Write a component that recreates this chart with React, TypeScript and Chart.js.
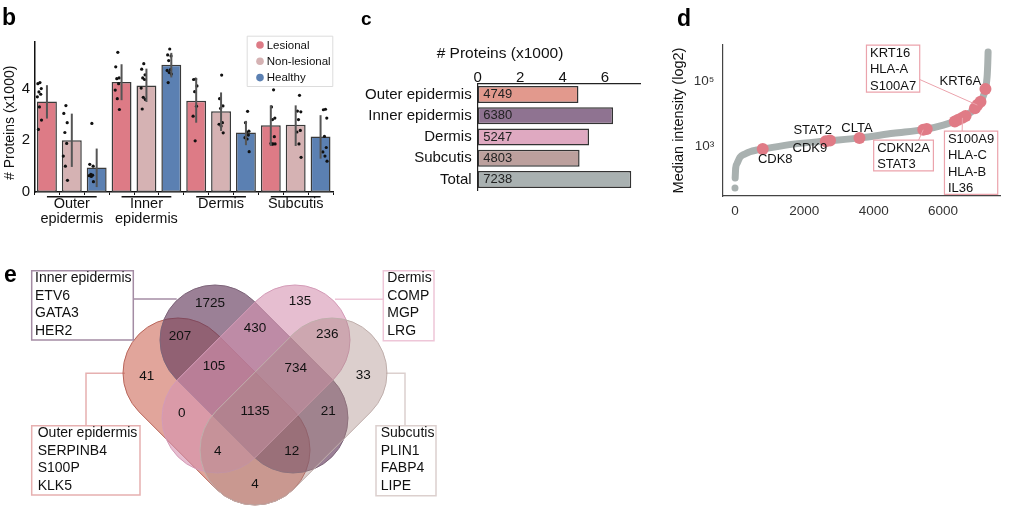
import React, { useEffect, useRef } from "react";
import { Chart, registerables } from "chart.js";

Chart.register(...registerables);

const FF = "'Liberation Sans', Arial, Helvetica, sans-serif";
const INK = "#111111";
Chart.defaults.font.family = FF;

/* ================= panel b : data ================= */
const REGIONS = ["Outer epidermis", "Inner epidermis", "Dermis", "Subcutis"];
const REGION_TICKS = [["Outer", "epidermis"], ["Inner", "epidermis"], ["Dermis"], ["Subcutis"]];
const CONDITIONS = ["Lesional", "Non-lesional", "Healthy"];
const B_Y_TICKS = [0, 2, 4];

const MEAN_LESIONAL = [3.5, 4.25, 3.53, 2.58];
const MEAN_NONLESIONAL = [2.0, 4.12, 3.12, 2.6];
const MEAN_HEALTHY = [0.95, 4.92, 2.3, 2.15];

const ERR_LOW_LESIONAL = [2.84, 3.55, 2.68, 1.78];
const ERR_HIGH_LESIONAL = [4.13, 4.94, 4.41, 3.35];
const ERR_LOW_NONLESIONAL = [0.97, 3.48, 2.36, 1.78];
const ERR_HIGH_NONLESIONAL = [3.03, 4.77, 3.85, 3.35];
const ERR_LOW_HEALTHY = [0.19, 4.43, 1.81, 1.29];
const ERR_HIGH_HEALTHY = [1.68, 5.38, 2.75, 2.97];

const DOTS_LESIONAL = [
  [4.23, 4.19, 4.0, 3.87, 3.78, 3.68, 3.29, 2.78, 2.42],
  [5.4, 4.84, 4.41, 4.38, 4.19, 3.94, 3.61, 3.19],
  [4.37, 4.35, 4.1, 3.88, 3.32, 2.93, 1.98],
  [3.95, 3.29, 2.86, 2.8, 2.14, 1.88, 1.86, 1.86, 1.85],
];
const DOTS_NONLESIONAL = [
  [3.34, 3.04, 2.68, 2.3, 1.88, 1.39, 1.0, 0.45],
  [4.96, 4.75, 4.53, 4.41, 4.35, 4.02, 3.66, 3.58, 3.21],
  [4.52, 3.61, 3.33, 3.23, 2.68, 2.62, 2.55, 2.29],
  [3.74, 3.13, 3.1, 2.8, 2.38, 2.32, 1.86, 1.34],
];
const DOTS_HEALTHY = [
  [2.65, 1.07, 1.0, 0.68, 0.65, 0.63, 0.6, 0.4],
  [5.53, 5.3, 5.26, 5.08, 4.73, 4.7, 4.62, 4.56, 4.23],
  [3.12, 2.68, 2.35, 2.32, 2.2, 2.1, 2.05, 1.56],
  [3.2, 3.18, 2.86, 2.15, 1.72, 1.55, 1.39, 1.19],
];

/* ================= panel c : data ================= */
const LAYERS = ["Outer epidermis", "Inner epidermis", "Dermis", "Subcutis", "Total"];
const LAYER_PROTEINS = [4749, 6380, 5247, 4803, 7238];
const C_X_TICKS = [0, 2, 4, 6];

/* ================= panel d : data ================= */
const CURVE_RANK = [5, 20, 60, 144, 288, 433, 625, 800, 1683, 2690, 3587, 4567, 5480, 6009, 6375, 6605, 6826, 6970, 7086, 7163, 7223, 7271, 7290, 7300];
const CURVE_INTENSITY = [112, 224, 309, 479, 603, 708, 794, 851, 1202, 1514, 1862, 2570, 3388, 4571, 6166, 8318, 11749, 15849, 22387, 35481, 57544, 134896, 346737, 776247];
const LOWEST_RANK = [0];
const LOWEST_INTENSITY = [55];
const HIGHLIGHT_GENES = ["CDK8", "CDK9", "STAT2", "CLTA", "CDKN2A", "STAT3", "S100A9", "HLA-C", "HLA-B", "IL36", "KRT16", "HLA-A", "S100A7", "KRT6A"];
const HIGHLIGHT_RANK = [800, 2620, 2740, 3590, 5430, 5530, 6340, 6440, 6560, 6650, 6920, 6990, 7080, 7223];
const HIGHLIGHT_INTENSITY = [851, 1470, 1560, 1860, 3300, 3450, 5900, 6600, 7600, 8600, 14800, 18600, 23400, 57500];
const D_X_TICKS = [0, 2000, 4000, 6000];
const D_Y_TICKS = [1000, 100000];

/* ================= panel e : data ================= */
const VENN_SETS = ["Outer epidermis", "Inner epidermis", "Dermis", "Subcutis"];
const VENN_REGIONS = ["O", "I", "D", "S", "OI", "ID", "DS", "OD", "IS", "OS", "OID", "IDS", "ODS", "OIS", "OIDS"];
const VENN_COUNTS = [41, 1725, 135, 33, 207, 430, 236, 0, 21, 4, 105, 734, 4, 12, 1135];
const MARKERS_OUTER = ["SERPINB4", "S100P", "KLK5"];
const MARKERS_INNER = ["ETV6", "GATA3", "HER2"];
const MARKERS_DERMIS = ["COMP", "MGP", "LRG"];
const MARKERS_SUBCUTIS = ["PLIN1", "FABP4", "LIPE"];

/* ================= styles / layout ================= */
const CONDITION_COLORS = ["#dd7b86", "#d5b2b3", "#5b80b2"];
const LAYER_COLORS = ["#e2998d", "#8f7391", "#dfa9c1", "#bca09d", "#a9b1b1"];
const DOT_JITTER = [0.02, -0.06, 0.07, -0.02, 0.05, -0.08, 0.0, 0.08, -0.04];

const D_TEXT_LABELS = [
  { gene: "CDK8", dx: 12.5, dy: 10.5 },
  { gene: "STAT2", dx: -17.3, dy: -10.4 },
  { gene: "CDK9", dx: -16, dy: 7.5 },
  { gene: "CLTA", dx: -2.5, dy: -9.6 },
  { gene: "KRT6A", dx: -25, dy: -8 },
];
const D_BOXES = [
  { genes: ["KRT16", "HLA-A", "S100A7"], anchor: "HLA-A", bx: -110.9, by: -60, lx: -58.6, ly: -26 },
  { genes: ["CDKN2A", "STAT3"], anchor: "CDKN2A", bx: -49.6, by: 10.3, lx: -4.6, ly: 10.3 },
  { genes: ["S100A9", "HLA-C", "HLA-B", "IL36"], anchor: "HLA-B", bx: -18, by: 13.2, lx: -0.3, ly: 13.2 },
];

// venn geometry in venn units (1 unit = 1 px), centre of figure at 0,0
const VENN_SHAPES = [
  { c1: [-77, -27], c2: [0, 50], fill: "rgba(205,105,88,0.6)", stroke: "#b8655a" },
  { c1: [-40, -60], c2: [38, 18], fill: "rgba(101,60,94,0.65)", stroke: "#7d6479" },
  { c1: [40, -60], c2: [-38, 18], fill: "rgba(213,147,177,0.6)", stroke: "#d39bb7" },
  { c1: [77, -27], c2: [0, 50], fill: "rgba(167,135,130,0.4)", stroke: "#bfaeab" },
];
const VENN_RADIUS = 55;
const VENN_LABEL_POS: Record<string, number[]> = {
  O: [-108.3, -23.3], I: [-45, -96.7], D: [45, -99], S: [108.3, -24.3],
  OI: [-75, -64], ID: [0, -71.7], DS: [72.3, -65.7], OD: [-73.3, 13.3], IS: [73.3, 11], OS: [0, 84.3],
  OID: [-41, -33.3], IDS: [40.7, -31.7], ODS: [-37.3, 51], OIS: [36.7, 51], OIDS: [0, 11.7],
};
const VENN_BOXES = [
  { set: 1, markers: MARKERS_INNER, x: -223.3, y: -129.3, w: 101.6, h: 69.3, pad: 3.3, color: "#a48ca4", line: [[-121.7, -101], [-78.3, -101]] },
  { set: 0, markers: MARKERS_OUTER, x: -223.3, y: 25.7, w: 108.3, h: 69.3, pad: 6, color: "#e6b0b0", line: [[-169, 25.7], [-169, -26.7], [-130, -26.7]] },
  { set: 2, markers: MARKERS_DERMIS, x: 128.3, y: -129.3, w: 50.7, h: 70, pad: 4, color: "#eec6d8", line: [[128.3, -100.7], [80, -100.7]] },
  { set: 3, markers: MARKERS_SUBCUTIS, x: 121, y: 25.7, w: 60, h: 70, pad: 4.7, color: "#dcd0ce", line: [[150, 25.7], [150, -26.7], [131, -26.7]] },
];

/* ================= helpers ================= */
const fixTicks = (values: number[]) => (s: any) => {
  s.ticks = values.map((v) => ({ value: v }));
};

function ChartCanvas({ left, top, width, height, make }: any) {
  const ref = useRef<HTMLCanvasElement | null>(null);
  useEffect(() => {
    const chart = new Chart(ref.current as HTMLCanvasElement, make());
    return () => chart.destroy();
  }, []);
  return (
    <canvas
      ref={ref}
      width={width}
      height={height}
      style={{ position: "absolute", left, top, width, height }}
    />
  );
}

/* ================= panel b ================= */
function makeB(): any {
  const means = [MEAN_LESIONAL, MEAN_NONLESIONAL, MEAN_HEALTHY];
  const lows = [ERR_LOW_LESIONAL, ERR_LOW_NONLESIONAL, ERR_LOW_HEALTHY];
  const highs = [ERR_HIGH_LESIONAL, ERR_HIGH_NONLESIONAL, ERR_HIGH_HEALTHY];
  const dots = [DOTS_LESIONAL, DOTS_NONLESIONAL, DOTS_HEALTHY];

  const barSets = CONDITIONS.map((name, c) => ({
    type: "bar",
    label: name,
    data: means[c].map((v, g) => ({ x: g * 3 + c, y: v })),
    backgroundColor: CONDITION_COLORS[c],
    borderColor: "#3a3a3a",
    borderWidth: 1.5,
    borderSkipped: false,
    grouped: false,
    barPercentage: 0.8,
    categoryPercentage: 1,
    xAxisID: "x",
    order: 2,
  }));
  const dotData: any[] = [];
  CONDITIONS.forEach((_, c) => {
    dots[c].forEach((vals, g) => {
      vals.forEach((v, k) => dotData.push({ x: g * 3 + c + DOT_JITTER[k % DOT_JITTER.length], y: v }));
    });
  });
  const dotSet = {
    type: "scatter",
    data: dotData,
    xAxisID: "xd",
    pointRadius: 1.6,
    pointBackgroundColor: INK,
    pointBorderWidth: 0,
    order: 1,
  };

  const plugin = {
    id: "bExtras",
    afterDatasetsDraw(chart: any) {
      const { ctx, chartArea } = chart;
      const ys = chart.scales.y;
      const xs = chart.scales.x;
      ctx.save();
      ctx.strokeStyle = "#555";
      ctx.lineWidth = 2;
      CONDITIONS.forEach((_, c) => {
        const meta = chart.getDatasetMeta(c);
        meta.data.forEach((el: any, g: number) => {
          ctx.beginPath();
          ctx.moveTo(el.x, ys.getPixelForValue(lows[c][g]));
          ctx.lineTo(el.x, ys.getPixelForValue(highs[c][g]));
          ctx.stroke();
        });
      });
      ctx.strokeStyle = INK;
      ctx.lineWidth = 1.5;
      const yb = chartArea.bottom + 4.7;
      REGIONS.forEach((_, g) => {
        ctx.beginPath();
        ctx.moveTo(xs.getPixelForValue(g * 3), yb);
        ctx.lineTo(xs.getPixelForValue(g * 3 + 2), yb);
        ctx.stroke();
      });
      // legend
      const bx = chartArea.right - 86.3;
      const by = chartArea.top - 6.3;
      ctx.fillStyle = "#fff";
      ctx.strokeStyle = "#dcdcdc";
      ctx.lineWidth = 1;
      ctx.beginPath();
      ctx.rect(bx + 0.5, by + 0.5, 85.6, 50.3);
      ctx.fill();
      ctx.stroke();
      ctx.font = `11.5px ${FF}`;
      ctx.textBaseline = "middle";
      ctx.textAlign = "left";
      CONDITIONS.forEach((name, c) => {
        const yy = by + 9.3 + c * 16.3;
        ctx.fillStyle = CONDITION_COLORS[c];
        ctx.beginPath();
        ctx.arc(bx + 13.3, yy, 3.8, 0, Math.PI * 2);
        ctx.fill();
        ctx.fillStyle = INK;
        ctx.fillText(name, bx + 20, yy + 0.5);
      });
      ctx.restore();
    },
  };

  return {
    data: { datasets: [...barSets, dotSet] },
    options: {
      animation: false,
      responsive: false,
      events: [],
      layout: { padding: { top: 42, right: 7, left: 0, bottom: 0 } },
      plugins: { legend: { display: false }, tooltip: { enabled: false } },
      scales: {
        x: {
          type: "linear",
          offset: false,
          min: -0.5,
          max: 11.5,
          afterBuildTicks: fixTicks([0, 1, 2, 3, 4, 5, 6, 7, 8, 9, 10, 11]),
          afterFit: (s: any) => { s.height = 48; },
          grid: { display: true, drawOnChartArea: false, drawTicks: true, tickLength: 3, color: INK, lineWidth: 1 },
          border: { display: true, color: INK, width: 1.5 },
          ticks: {
            autoSkip: false,
            maxRotation: 0,
            padding: 2,
            color: INK,
            font: { family: FF, size: 14.5, lineHeight: 1.0 },
            callback: (_v: any, i: number) => (i % 3 === 1 ? REGION_TICKS[(i - 1) / 3] : ""),
          },
        },
        xd: { type: "linear", display: false, offset: false, min: -0.19, max: 11.31 },
        y: {
          min: 0,
          max: 5.8,
          afterBuildTicks: fixTicks(B_Y_TICKS),
          afterFit: (s: any) => { s.width = 34.5; },
          grid: { display: false, drawTicks: false },
          border: { display: true, color: INK, width: 1.5 },
          ticks: { color: INK, padding: 4.5, font: { family: FF, size: 15 } },
          title: {
            display: true,
            text: "# Proteins (x1000)   ",
            color: INK,
            font: { family: FF, size: 14 },
            padding: { top: 1.5, bottom: 0 },
          },
        },
      },
    },
    plugins: [plugin],
  };
}

/* ================= panel c ================= */
function makeC(): any {
  const plugin = {
    id: "cValues",
    afterDatasetsDraw(chart: any) {
      const { ctx } = chart;
      const x0 = chart.scales.x.getPixelForValue(0);
      const meta = chart.getDatasetMeta(0);
      ctx.save();
      ctx.font = `13px ${FF}`;
      ctx.fillStyle = "#222";
      ctx.textBaseline = "middle";
      ctx.textAlign = "left";
      meta.data.forEach((el: any, i: number) => {
        ctx.fillText(String(LAYER_PROTEINS[i]), x0 + 5.6, el.y);
      });
      ctx.restore();
    },
  };
  return {
    type: "bar",
    data: {
      labels: LAYERS,
      datasets: [
        {
          data: LAYER_PROTEINS.map((v) => v / 1000),
          backgroundColor: LAYER_COLORS,
          borderColor: "#333",
          borderWidth: 1.5,
          borderSkipped: false,
          barPercentage: 0.8,
          categoryPercentage: 1,
        },
      ],
    },
    options: {
      indexAxis: "y",
      animation: false,
      responsive: false,
      events: [],
      layout: { padding: { top: 0, right: 96, left: 0, bottom: 9.8 } },
      plugins: {
        legend: { display: false },
        tooltip: { enabled: false },
        title: {
          display: true,
          text: "# Proteins (x1000)",
          color: INK,
          font: { family: FF, size: 15.5, weight: "normal", lineHeight: 1.2 },
          padding: { top: 44, bottom: 0 },
        },
      },
      scales: {
        x: {
          position: "top",
          min: 0,
          max: 7.65,
          afterBuildTicks: fixTicks(C_X_TICKS),
          afterFit: (s: any) => { s.height = 21.4; },
          grid: { display: false, drawTicks: false },
          border: { display: true, color: "#222", width: 1.2 },
          ticks: { color: INK, padding: -1, font: { family: FF, size: 15, lineHeight: 1 } },
        },
        y: {
          afterFit: (s: any) => { s.width = 117.7; },
          grid: { display: false, drawTicks: false },
          border: { display: true, color: "#222", width: 1.2 },
          ticks: { color: INK, padding: 6, font: { family: FF, size: 15 } },
        },
      },
    },
    plugins: [plugin],
  };
}

/* ================= panel d ================= */
function makeD(): any {
  const plugin = {
    id: "dLabels",
    afterDatasetsDraw(chart: any) {
      const { ctx } = chart;
      const meta = chart.getDatasetMeta(2);
      const pos = (gene: string) => {
        const el = meta.data[HIGHLIGHT_GENES.indexOf(gene)];
        return { x: el.x, y: el.y };
      };
      ctx.save();
      ctx.font = `13px ${FF}`;
      ctx.fillStyle = INK;
      ctx.textBaseline = "middle";
      ctx.textAlign = "center";
      D_TEXT_LABELS.forEach((l) => {
        const p = pos(l.gene);
        ctx.fillText(l.gene, p.x + l.dx, p.y + l.dy);
      });
      D_BOXES.forEach((b) => {
        const p = pos(b.anchor);
        ctx.strokeStyle = "#eba3ac";
        ctx.lineWidth = 1;
        ctx.beginPath();
        ctx.moveTo(p.x + b.lx, p.y + b.ly);
        ctx.lineTo(p.x, p.y);
        ctx.stroke();
        const w = Math.max(...b.genes.map((g) => ctx.measureText(g).width)) + 7;
        const h = b.genes.length * 16.3 - 1.8;
        const x = p.x + b.bx;
        const y = p.y + b.by;
        ctx.fillStyle = "#fff";
        ctx.lineWidth = 1.2;
        ctx.beginPath();
        ctx.rect(x, y, w, h);
        ctx.fill();
        ctx.stroke();
        ctx.fillStyle = INK;
        ctx.textAlign = "left";
        b.genes.forEach((g, i) => ctx.fillText(g, x + 3.5, y + 8.3 + i * 16.3));
        ctx.textAlign = "center";
      });
      ctx.restore();
    },
  };
  return {
    type: "line",
    data: {
      datasets: [
        {
          type: "line",
          data: CURVE_RANK.map((r, i) => ({ x: r, y: CURVE_INTENSITY[i] })),
          borderColor: "#a9b1b0",
          borderWidth: 7,
          pointRadius: 0,
          cubicInterpolationMode: "monotone",
          borderCapStyle: "round",
          borderJoinStyle: "round",
          fill: false,
          order: 3,
        },
        {
          type: "scatter",
          data: LOWEST_RANK.map((r, i) => ({ x: r, y: LOWEST_INTENSITY[i] })),
          pointRadius: 3.5,
          pointBackgroundColor: "#a9b1b0",
          pointBorderWidth: 0,
          order: 2,
        },
        {
          type: "scatter",
          data: HIGHLIGHT_RANK.map((r, i) => ({ x: r, y: HIGHLIGHT_INTENSITY[i] })),
          pointRadius: 6,
          pointBackgroundColor: "#e07b86",
          pointBorderWidth: 0,
          order: 1,
        },
      ],
    },
    options: {
      animation: false,
      responsive: false,
      events: [],
      layout: { padding: { top: 45, right: 15, left: 0, bottom: 0 } },
      plugins: { legend: { display: false }, tooltip: { enabled: false } },
      scales: {
        x: {
          type: "linear",
          min: -366,
          max: 7643,
          afterBuildTicks: fixTicks(D_X_TICKS),
          afterFit: (s: any) => { s.height = 34; },
          grid: { display: false, drawTicks: false },
          border: { display: true, color: "#444", width: 1.2 },
          ticks: {
            color: "#333",
            padding: 7,
            font: { family: FF, size: 13.5 },
            callback: (v: any) => String(v),
          },
        },
        y: {
          type: "logarithmic",
          min: 31.6,
          max: 1260000,
          afterBuildTicks: fixTicks(D_Y_TICKS),
          afterFit: (s: any) => { s.width = 62.3; },
          grid: { display: false, drawTicks: false },
          border: { display: true, color: "#444", width: 1.2 },
          ticks: {
            color: "#333",
            padding: 8,
            font: { family: FF, size: 13.5 },
            callback: (v: any) => (v === 1000 ? "10³" : "10⁵"),
          },
          title: {
            display: true,
            text: "Median intensity (log2)",
            color: INK,
            font: { family: FF, size: 14.5 },
            padding: { top: 9.8, bottom: 0 },
          },
        },
      },
    },
    plugins: [plugin],
  };
}

/* ================= panel e ================= */
function makeE(): any {
  const plugin = {
    id: "venn",
    beforeDatasetsDraw(chart: any) {
      const { ctx } = chart;
      const xs = chart.scales.x;
      const ys = chart.scales.y;
      const px = (p: number[]) => [xs.getPixelForValue(p[0]), ys.getPixelForValue(p[1])];
      const r = xs.getPixelForValue(VENN_RADIUS) - xs.getPixelForValue(0);
      ctx.save();
      VENN_BOXES.forEach((b) => {
        ctx.strokeStyle = b.color;
        ctx.lineWidth = 1.5;
        ctx.beginPath();
        b.line.forEach((pt, i) => {
          const [x, y] = px(pt);
          if (i === 0) ctx.moveTo(x, y);
          else ctx.lineTo(x, y);
        });
        ctx.stroke();
      });
      VENN_SHAPES.forEach((s) => {
        const [x1, y1] = px(s.c1);
        const [x2, y2] = px(s.c2);
        const a = Math.atan2(y2 - y1, x2 - x1);
        ctx.beginPath();
        ctx.arc(x2, y2, r, a - Math.PI / 2, a + Math.PI / 2);
        ctx.arc(x1, y1, r, a + Math.PI / 2, a + (3 * Math.PI) / 2);
        ctx.closePath();
        ctx.fillStyle = s.fill;
        ctx.fill();
        ctx.strokeStyle = s.stroke;
        ctx.lineWidth = 1;
        ctx.stroke();
      });
      ctx.restore();
    },
    afterDatasetsDraw(chart: any) {
      const { ctx } = chart;
      const xs = chart.scales.x;
      const ys = chart.scales.y;
      const meta = chart.getDatasetMeta(0);
      ctx.save();
      ctx.font = `13.5px ${FF}`;
      ctx.fillStyle = INK;
      ctx.textAlign = "center";
      ctx.textBaseline = "middle";
      meta.data.forEach((el: any, i: number) => {
        ctx.fillText(String(VENN_COUNTS[i]), el.x, el.y);
      });
      ctx.font = `14px ${FF}`;
      ctx.textAlign = "left";
      VENN_BOXES.forEach((b) => {
        const x = xs.getPixelForValue(b.x);
        const y = ys.getPixelForValue(b.y);
        const w = xs.getPixelForValue(b.x + b.w) - x;
        const h = ys.getPixelForValue(b.y + b.h) - y;
        ctx.fillStyle = "#fff";
        ctx.strokeStyle = b.color;
        ctx.lineWidth = 1.5;
        ctx.beginPath();
        ctx.rect(x, y, w, h);
        ctx.fill();
        ctx.stroke();
        ctx.fillStyle = INK;
        [VENN_SETS[b.set], ...b.markers].forEach((t, i) => {
          ctx.fillText(t, x + b.pad, y + 7.6 + i * 17.55);
        });
      });
      ctx.restore();
    },
  };
  return {
    type: "scatter",
    data: {
      datasets: [
        {
          data: VENN_REGIONS.map((k) => ({ x: VENN_LABEL_POS[k][0], y: VENN_LABEL_POS[k][1] })),
          pointRadius: 0,
        },
      ],
    },
    options: {
      animation: false,
      responsive: false,
      events: [],
      layout: { padding: 0 },
      plugins: { legend: { display: false }, tooltip: { enabled: false } },
      scales: {
        x: { type: "linear", display: false, min: -255, max: 405 },
        y: { type: "linear", display: false, reverse: true, min: -145, max: 112 },
      },
    },
    plugins: [plugin],
  };
}

const letterStyle = (left: number, top: number, size: number): React.CSSProperties => ({
  position: "absolute",
  left,
  top,
  fontFamily: FF,
  fontWeight: "bold",
  fontSize: size,
  lineHeight: 1,
  color: "#000",
});

export default function App() {
  return (
    <div
      style={{
        position: "absolute",
        left: 0,
        top: 0,
        width: 1015,
        height: 512,
        background: "#fff",
        overflow: "hidden",
      }}
    >
      <ChartCanvas left={0} top={0} width={340} height={240} make={makeB} />
      <ChartCanvas left={360} top={0} width={376} height={205} make={makeC} />
      <ChartCanvas left={660} top={0} width={355} height={230} make={makeD} />
      <ChartCanvas left={0} top={255} width={660} height={257} make={makeE} />
      <span style={letterStyle(2, 5.5, 23)}>b</span>
      <span style={letterStyle(361, 8.9, 19)}>c</span>
      <span style={letterStyle(677, 7.2, 23)}>d</span>
      <span style={letterStyle(4, 262.5, 23)}>e</span>
    </div>
  );
}
